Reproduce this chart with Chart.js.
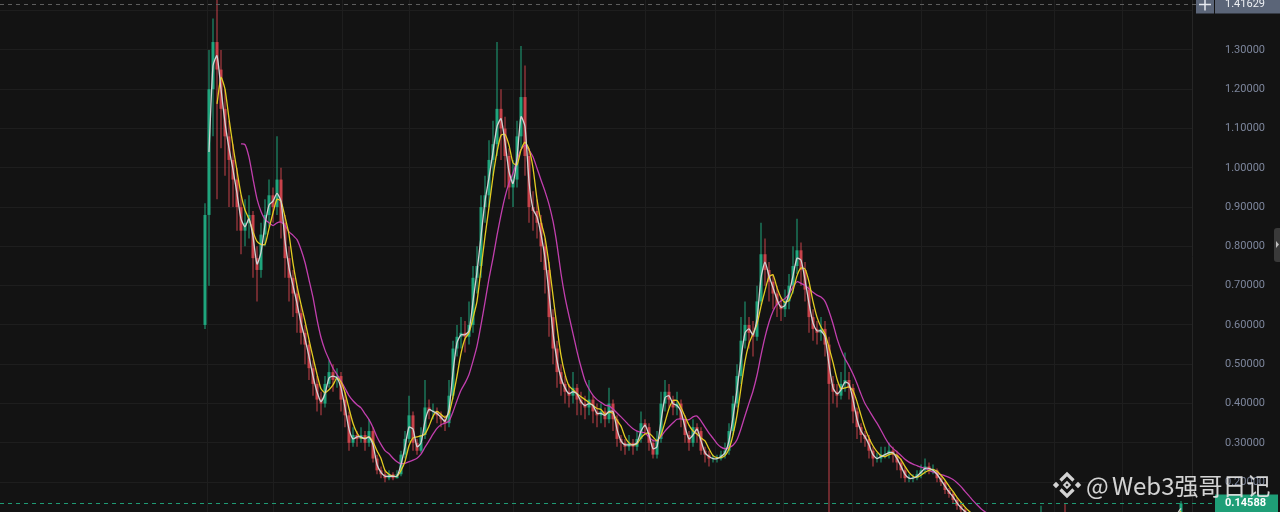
<!DOCTYPE html>
<html>
<head>
<meta charset="utf-8">
<script src="https://cdn.jsdelivr.net/npm/chart.js@4.4.1/dist/chart.umd.min.js"></script>
<style>
  html, body { margin: 0; padding: 0; background: #131313; overflow: hidden; }
  canvas { display: block; }
</style>
</head>
<body>
<canvas id="kline" width="1280" height="512"></canvas>
<script>
// candles, one per step; open = previous close
const firstOpen = 0.60;
const closes = [
  .88,1.20,1.32,1.25,1.15,1.08,1.02,.97,.90,.84,
  .86,.88,.77,.74,.83,.88,.93,.90,.97,.86,
  .77,.72,.68,.63,.58,.55,.49,.45,.41,.40,
  .45,.48,.46,.47,.41,.37,.30,.32,.31,.32,
  .30,.33,.26,.23,.22,.21,.22,.21,.22,.27,
  .31,.37,.30,.28,.32,.39,.38,.38,.37,.36,
  .35,.42,.54,.57,.58,.57,.60,.72,.75,.90,
  .93,1.02,1.06,1.15,1.10,1.03,.95,.97,1.08,1.18,
  1.03,.90,.89,.86,.80,.74,.62,.54,.48,.45,
  .43,.42,.44,.41,.40,.39,.41,.38,.37,.38,
  .36,.40,.36,.31,.30,.29,.30,.29,.31,.35,
  .34,.30,.27,.31,.40,.43,.41,.39,.40,.36,
  .32,.30,.34,.33,.28,.27,.26,.26,.26,.27,
  .28,.33,.40,.47,.56,.60,.58,.57,.66,.78,
  .74,.71,.68,.65,.64,.66,.70,.75,.79,.74,
  .69,.62,.59,.58,.59,.55,.45,.43,.42,.45,
  .46,.44,.38,.34,.32,.31,.28,.26,.26,.27,
  .27,.28,.27,.25,.23,.21,.21,.21,.22,.23,
  .24,.23,.23,.21,.20,.18,.17,.155,.14,.13,
  .12,.115,.11,.105,.10,.098,.10,.097,.095,.098,
  .10,.102,.099,.10,.104,.108,.105,.11,.112,.118,
  .112,.108,.11,.113,.116,.11,.106,.104,.102,.10,
  .103,.101,.099,.10,.102,.105,.103,.10,.104,.106,
  .108,.105,.107,.11,.112,.109,.111,.114,.116,.113,
  .117,.119,.118,.121,.14588
];
const highs = [
  .91,1.30,1.38,1.46,1.30,1.20,1.12,1.06,1.00,.93,
  .92,.93,.89,.80,.86,.92,.97,.95,1.08,1.00,
  .88,.80,.74,.70,.65,.60,.56,.51,.47,.43,
  .47,.51,.50,.49,.48,.43,.38,.34,.33,.34,
  .33,.36,.34,.27,.24,.23,.23,.225,.23,.28,
  .33,.42,.38,.31,.34,.46,.41,.40,.39,.38,
  .37,.46,.56,.60,.62,.61,.66,.75,.80,.93,
  .98,1.07,1.12,1.32,1.20,1.13,1.05,1.02,1.12,1.31,
  1.26,1.05,.94,.92,.88,.82,.76,.64,.56,.50,
  .47,.45,.48,.45,.43,.42,.46,.42,.40,.40,
  .39,.44,.41,.37,.32,.31,.32,.31,.33,.38,
  .36,.35,.31,.33,.43,.46,.45,.42,.43,.41,
  .37,.33,.36,.35,.34,.29,.28,.27,.27,.28,
  .30,.35,.42,.50,.62,.66,.62,.61,.70,.86,
  .82,.76,.73,.70,.67,.69,.73,.80,.87,.81,
  .76,.70,.64,.61,.62,.61,.57,.47,.45,.48,
  .53,.48,.45,.39,.35,.33,.32,.29,.275,.29,
  .29,.30,.29,.28,.26,.24,.22,.22,.23,.245,
  .26,.25,.245,.235,.215,.205,.185,.175,.16,.145,
  .135,.125,.118,.112,.107,.104,.105,.103,.10,.102,
  .104,.106,.104,.103,.108,.112,.11,.114,.116,.14,
  .12,.114,.115,.117,.12,.147,.112,.108,.106,.104,
  .106,.105,.103,.104,.106,.109,.108,.105,.108,.11,
  .112,.11,.111,.114,.116,.114,.115,.118,.12,.118,
  .12,.122,.122,.123,.152
];
const lows = [
  .59,.70,1.08,.92,1.05,.98,.90,.90,.84,.78,
  .80,.82,.72,.66,.72,.80,.85,.86,.88,.82,
  .72,.66,.62,.58,.55,.50,.46,.42,.38,.37,
  .39,.44,.43,.44,.38,.34,.28,.29,.29,.30,
  .28,.29,.25,.22,.21,.20,.205,.205,.21,.215,
  .26,.30,.28,.27,.275,.31,.36,.36,.35,.34,
  .33,.34,.41,.52,.54,.53,.55,.58,.68,.72,
  .86,.90,.98,1.03,1.02,.95,.92,.90,.95,1.05,
  .98,.86,.84,.82,.76,.68,.57,.50,.44,.42,
  .40,.39,.40,.37,.37,.36,.37,.35,.34,.35,
  .34,.35,.33,.29,.28,.27,.28,.27,.28,.30,
  .32,.28,.26,.26,.30,.38,.39,.37,.37,.34,
  .30,.28,.29,.30,.27,.25,.24,.25,.25,.255,
  .26,.27,.32,.39,.45,.54,.54,.52,.56,.65,
  .70,.66,.64,.62,.61,.62,.64,.68,.73,.70,
  .66,.58,.56,.55,.56,.52,.10,.40,.39,.41,
  .43,.41,.35,.31,.30,.29,.26,.24,.25,.25,
  .26,.26,.25,.23,.21,.20,.20,.20,.205,.21,
  .22,.22,.22,.20,.19,.17,.16,.145,.13,.12,
  .11,.105,.10,.095,.09,.09,.092,.09,.088,.09,
  .095,.096,.094,.095,.098,.10,.10,.102,.105,.11,
  .105,.10,.104,.106,.109,.104,.10,.098,.096,.094,
  .096,.094,.093,.094,.096,.099,.097,.094,.098,.10,
  .101,.10,.10,.104,.106,.104,.106,.108,.11,.108,
  .11,.112,.112,.115,.118
];
const maPeriods = [2, 4, 10];
const yTicks = [0.2,0.3,0.4,0.5,0.6,0.7,0.8,0.9,1.0,1.1,1.2,1.3,1.4];
const timeGrid = [0.5,17,34.25,51,77,93.25,110,127.5,144.5,161.75,179,195.25,212.25,229.25];
const lastPrice = 0.14588;
const crossPrice = 1.41629;

const UP = '#1fa57d', DOWN = '#c8424a';
const BG = '#131313', GRID = '#1e1e1e';

const opens = closes.map((c, i) => i === 0 ? firstOpen : closes[i - 1]);
const wicks = [], bodies = [], colors = [];
closes.forEach((c, i) => {
  const o = opens[i];
  wicks.push({ x: i, y: [lows[i], highs[i]] });
  let lo = Math.min(o, c), hi = Math.max(o, c);
  if (hi - lo < 0.002) hi = lo + 0.002;
  bodies.push({ x: i, y: [lo, hi] });
  colors.push(c >= o ? UP : DOWN);
});

function ma(n) {
  return closes.map((_, i) => {
    if (i < n - 1) return { x: i, y: null };
    let s = 0;
    for (let k = i - n + 1; k <= i; k++) s += closes[k];
    return { x: i, y: s / n };
  });
}

const maLine = (n, color, order) => ({
  type: 'line', data: ma(n), borderColor: color, borderWidth: 1.3,
  pointRadius: 0, tension: 0.2, fill: false, order: order
});

const overlay = {
  id: 'overlay',
  beforeDraw(chart) {
    const c = chart.ctx;
    c.save();
    c.fillStyle = BG;
    c.fillRect(0, 0, chart.width, chart.height);
    c.restore();
  },
  afterDraw(chart) {
    const c = chart.ctx, ya = chart.scales.y;
    c.save();
    // last price line + tag
    const yl = Math.round(ya.getPixelForValue(lastPrice)) + 0.5;
    c.strokeStyle = '#1f9a74';
    c.lineWidth = 1;
    c.setLineDash([4, 4]);
    c.beginPath(); c.moveTo(0, yl); c.lineTo(1215, yl); c.stroke();
    // crosshair line
    const yc = Math.round(ya.getPixelForValue(crossPrice)) + 0.5;
    c.strokeStyle = '#5e5e5e';
    c.beginPath(); c.moveTo(0, yc); c.lineTo(1196, yc); c.stroke();
    c.setLineDash([]);

    c.fillStyle = '#1f9e77';
    c.fillRect(1215, yl - 9, 63, 18);
    c.fillStyle = '#ffffff';
    c.font = 'bold 11px Roboto';
    c.textBaseline = 'middle';
    c.textAlign = 'left';
    c.fillText(lastPrice.toFixed(5), 1225, yl);

    c.fillStyle = '#5b6578';
    c.fillRect(1196, yc - 9, 18, 18);
    c.fillRect(1215, yc - 9, 65, 18);
    c.strokeStyle = '#e6e9ef';
    c.lineWidth = 1.5;
    c.beginPath();
    c.moveTo(1199, yc); c.lineTo(1211, yc);
    c.moveTo(1205, yc - 6); c.lineTo(1205, yc + 6);
    c.stroke();
    c.fillStyle = '#eef0f4';
    c.font = '11px Roboto';
    c.fillText(crossPrice.toFixed(5), 1225, yc);

    // side tab
    c.fillStyle = '#3a3a3a';
    c.beginPath(); c.roundRect(1274, 228, 10, 34, 3); c.fill();
    c.fillStyle = '#bdbdbd';
    c.beginPath(); c.moveTo(1276, 241); c.lineTo(1279, 244.5); c.lineTo(1276, 248); c.fill();

    // watermark
    const wm = 'rgba(228,228,228,0.92)';
    c.fillStyle = wm;
    const cx = 1067, cy = 485;
    const diamond = (x, y, r) => { c.beginPath(); c.moveTo(x, y - r); c.lineTo(x + r, y); c.lineTo(x, y + r); c.lineTo(x - r, y); c.closePath(); c.fill(); };
    diamond(cx - 11, cy, 3.2);
    diamond(cx + 11, cy, 3.2);
    diamond(cx, cy, 4.2);
    c.fillStyle = BG;
    diamond(cx, cy, 1.6);
    c.strokeStyle = wm;
    c.lineWidth = 3.2;
    c.lineJoin = 'miter';
    c.beginPath();
    c.moveTo(cx - 6.5, cy - 4.5); c.lineTo(cx, cy - 11); c.lineTo(cx + 6.5, cy - 4.5);
    c.moveTo(cx - 6.5, cy + 4.5); c.lineTo(cx, cy + 11); c.lineTo(cx + 6.5, cy + 4.5);
    c.stroke();
    c.fillStyle = wm;
    c.textBaseline = 'alphabetic';
    c.font = '24px "Noto Sans CJK SC"';
    c.fillText('@', 1086, 495);
    c.fillText('Web3强哥日记', 1112, 495);
    c.restore();
  }
};

new Chart(document.getElementById('kline'), {
  type: 'bar',
  data: {
    datasets: [
      maLine(maPeriods[0], '#d2d2d2', 0),
      maLine(maPeriods[1], '#e3cc22', 1),
      maLine(maPeriods[2], '#c23fae', 2),
      { data: bodies, backgroundColor: colors, barThickness: 3, grouped: false, inflateAmount: 0, borderWidth: 0, order: 5 },
      { data: wicks, backgroundColor: colors, barThickness: 1, grouped: false, inflateAmount: 0, borderWidth: 0, order: 6 }
    ]
  },
  options: {
    responsive: false,
    maintainAspectRatio: false,
    animation: false,
    devicePixelRatio: 1,
    layout: { padding: 0 },
    plugins: { legend: { display: false }, tooltip: { enabled: false } },
    scales: {
      x: {
        type: 'linear', min: -51.25, max: 246.75, offset: false,
        afterBuildTicks: s => { s.ticks = timeGrid.map(v => ({ value: v })); },
        ticks: { display: false },
        grid: { color: GRID, drawTicks: false, offset: false },
        border: { display: false },
        afterFit: s => { s.height = 0; s.paddingLeft = 0; s.paddingRight = 0; }
      },
      y: {
        position: 'right', min: 0.124, max: 1.427,
        afterBuildTicks: s => { s.ticks = yTicks.map(v => ({ value: v })); },
        ticks: { color: '#7d869c', font: { family: 'Roboto', size: 11 }, padding: 33, callback: v => Number(v).toFixed(5) },
        grid: { color: GRID, drawTicks: false },
        border: { color: '#262626' },
        afterFit: s => { s.width = 88; s.paddingTop = 0; s.paddingBottom = 0; }
      }
    }
  },
  plugins: [overlay]
});
</script>
</body>
</html>
